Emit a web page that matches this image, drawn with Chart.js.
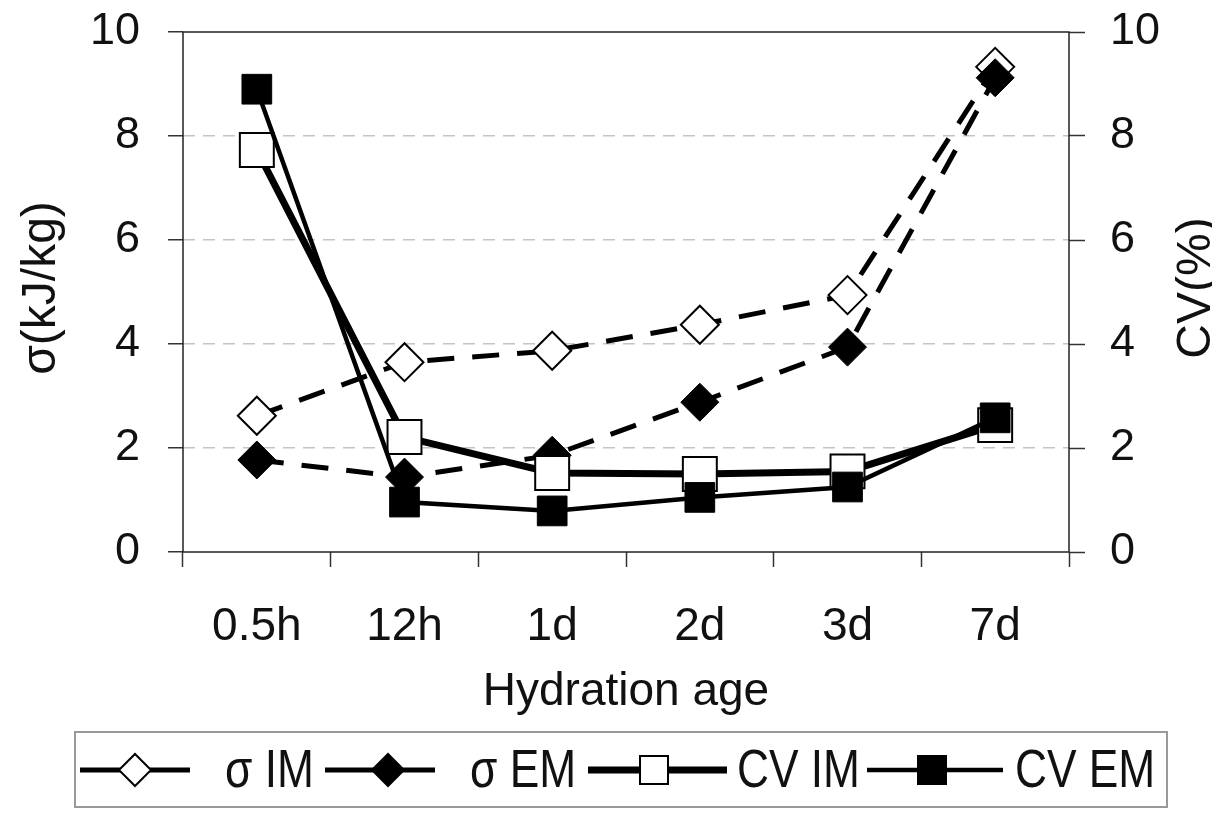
<!DOCTYPE html>
<html lang="en">
<head>
    <meta charset="UTF-8">
    <title>Hydration age</title>
    <style>
        body {
            margin: 0;
            padding: 0;
            background: white;
        }
        #wrap {
            width: 1212px;
            height: 814px;
        }
    </style>
    <script src="https://cdn.jsdelivr.net/npm/chart.js"></script>
</head>
<body>
    <div id="wrap">
        <canvas id="hydrationChart" width="1212" height="814"></canvas>
    </div>

    <script>
        // values
        const categories = ['0.5h', '12h', '1d', '2d', '3d', '7d'];
        const sigmaIM = [2.62, 3.65, 3.87, 4.37, 4.94, 9.33];
        const sigmaEM = [1.77, 1.44, 1.86, 2.88, 3.94, 9.12];
        const cvIM = [7.73, 2.21, 1.52, 1.5, 1.55, 2.44];
        const cvEM = [8.9, 0.96, 0.79, 1.05, 1.25, 2.58];
        const seriesNames = ['σ IM', 'σ EM', 'CV IM', 'CV EM'];
        const yMin = 0, yMax = 10, yStep = 2;

        const FONT = "'Liberation Sans', Arial, sans-serif";

        // where each legend entry sits: line start/end, marker centre, text start
        const legendSlots = [
            { x0: 80, x1: 190, mx: 135, tx: 225 },
            { x0: 325, x1: 435, mx: 388, tx: 470 },
            { x0: 588, x1: 727, mx: 654, tx: 737 },
            { x0: 867, x1: 1003, mx: 932, tx: 1015 }
        ];

        function drawMarker(ctx, style, x, y, r, filled, bw) {
            ctx.beginPath();
            if (style === 'rectRot') {
                ctx.moveTo(x - r, y);
                ctx.lineTo(x, y - r);
                ctx.lineTo(x + r, y);
                ctx.lineTo(x, y + r);
                ctx.closePath();
            } else {
                ctx.rect(x - r, y - r, 2 * r, 2 * r);
            }
            ctx.fillStyle = filled ? '#000' : '#fff';
            ctx.fill();
            ctx.lineWidth = bw;
            ctx.strokeStyle = '#000';
            ctx.stroke();
        }

        const extras = {
            id: 'extras',
            beforeDatasetsDraw(chart) {
                const { ctx, chartArea: a } = chart;
                ctx.save();
                ctx.strokeStyle = '#222';
                ctx.lineWidth = 1.5;
                ctx.strokeRect(a.left, a.top, a.right - a.left, a.bottom - a.top);
                ctx.restore();
            },
            afterDraw(chart) {
                const { ctx, chartArea: a } = chart;
                const midY = (a.top + a.bottom) / 2 - 4;
                ctx.save();
                ctx.fillStyle = '#111';
                ctx.font = '48px ' + FONT;
                ctx.textAlign = 'center';
                ctx.textBaseline = 'middle';
                // both y titles read bottom to top
                [['σ(kJ/kg)', 42], ['CV(%)', 1197]].forEach(([t, x]) => {
                    ctx.save();
                    ctx.translate(x, midY);
                    ctx.rotate(-Math.PI / 2);
                    ctx.fillText(t, 0, 0);
                    ctx.restore();
                });

                // legend box
                ctx.strokeStyle = '#999';
                ctx.lineWidth = 2;
                ctx.strokeRect(75, 732, 1092, 75);
                const ly = 770;
                chart.data.datasets.forEach((ds, i) => {
                    const s = legendSlots[i];
                    ctx.beginPath();
                    ctx.setLineDash([]);
                    ctx.lineWidth = ds.borderWidth;
                    ctx.strokeStyle = '#000';
                    ctx.moveTo(s.x0, ly);
                    ctx.lineTo(s.x1, ly);
                    ctx.stroke();
                    const filled = ds.pointBackgroundColor === '#000';
                    const r = ds.pointStyle === 'rectRot' ? 16 : 14;
                    drawMarker(ctx, ds.pointStyle, s.mx, ly, r, filled, 2);
                    // legend lettering is tall and narrow in the original
                    ctx.save();
                    ctx.translate(s.tx, ly + 2);
                    ctx.scale(0.82, 1);
                    ctx.fillStyle = '#111';
                    ctx.font = '54px ' + FONT;
                    ctx.textAlign = 'left';
                    ctx.fillText(ds.label, 0, 0);
                    ctx.restore();
                });
                ctx.restore();
            }
        };

        const gridColor = (c) => (c.tick && (c.tick.value === yMin || c.tick.value === yMax)) ? 'rgba(0,0,0,0)' : '#c4c4c4';

        // keep the y labels from pushing the plot down
        const fitY = (w) => (s) => {
            s.width = w;
            s.paddingTop = 0;
            s.paddingBottom = 0;
        };

        const ctx = document.getElementById('hydrationChart').getContext('2d');
        new Chart(ctx, {
            type: 'line',
            data: {
                labels: categories,
                datasets: [
                    {
                        label: seriesNames[0],
                        data: sigmaIM,
                        yAxisID: 'y',
                        borderColor: '#000',
                        borderWidth: 5,
                        borderDash: [27, 18],
                        pointStyle: 'rectRot',
                        pointRadius: 19,
                        pointBackgroundColor: '#fff',
                        pointBorderColor: '#000',
                        pointBorderWidth: 2,
                        tension: 0,
                        order: 4
                    },
                    {
                        label: seriesNames[1],
                        data: sigmaEM,
                        yAxisID: 'y',
                        borderColor: '#000',
                        borderWidth: 5,
                        borderDash: [27, 18],
                        pointStyle: 'rectRot',
                        pointRadius: 19,
                        pointBackgroundColor: '#000',
                        pointBorderColor: '#000',
                        pointBorderWidth: 1,
                        tension: 0,
                        order: 3
                    },
                    {
                        label: seriesNames[2],
                        data: cvIM,
                        yAxisID: 'y1',
                        borderColor: '#000',
                        borderWidth: 7,
                        pointStyle: 'rect',
                        pointRadius: 24,
                        pointBackgroundColor: '#fff',
                        pointBorderColor: '#000',
                        pointBorderWidth: 2,
                        tension: 0,
                        order: 2
                    },
                    {
                        label: seriesNames[3],
                        data: cvEM,
                        yAxisID: 'y1',
                        borderColor: '#000',
                        borderWidth: 4.5,
                        pointStyle: 'rect',
                        pointRadius: 21,
                        pointBackgroundColor: '#000',
                        pointBorderColor: '#000',
                        pointBorderWidth: 1,
                        tension: 0,
                        order: 1
                    }
                ]
            },
            options: {
                responsive: false,
                animation: false,
                layout: { padding: { top: 32, bottom: 92, left: 0, right: 0 } },
                plugins: {
                    legend: { display: false },
                    tooltip: { enabled: false }
                },
                scales: {
                    x: {
                        offset: true,
                        grid: {
                            offset: true,
                            drawOnChartArea: false,
                            tickLength: 15,
                            tickColor: '#333',
                            tickWidth: 1.5
                        },
                        border: { display: false },
                        ticks: {
                            color: '#111',
                            padding: 33,
                            font: { size: 46, family: FONT }
                        },
                        title: {
                            display: true,
                            text: 'Hydration age',
                            color: '#111',
                            padding: { top: 4, bottom: 2 },
                            font: { size: 46, family: FONT }
                        },
                        afterFit: (s) => { s.height = 170; }
                    },
                    y: {
                        position: 'left',
                        min: yMin,
                        max: yMax,
                        ticks: {
                            stepSize: yStep,
                            color: '#111',
                            padding: 28,
                            font: { size: 45, family: FONT }
                        },
                        grid: {
                            color: gridColor,
                            lineWidth: 1.5,
                            tickLength: 15,
                            tickColor: '#333',
                            tickWidth: 1.5
                        },
                        border: { display: false, dash: [12, 8] },
                        afterFit: fitY(183)
                    },
                    y1: {
                        position: 'right',
                        min: yMin,
                        max: yMax,
                        ticks: {
                            stepSize: yStep,
                            color: '#111',
                            padding: 25,
                            font: { size: 45, family: FONT }
                        },
                        grid: {
                            drawOnChartArea: false,
                            tickLength: 16,
                            tickColor: '#333',
                            tickWidth: 1.5
                        },
                        border: { display: false },
                        afterFit: fitY(143)
                    }
                }
            },
            plugins: [extras]
        });
    </script>
</body>
</html>
